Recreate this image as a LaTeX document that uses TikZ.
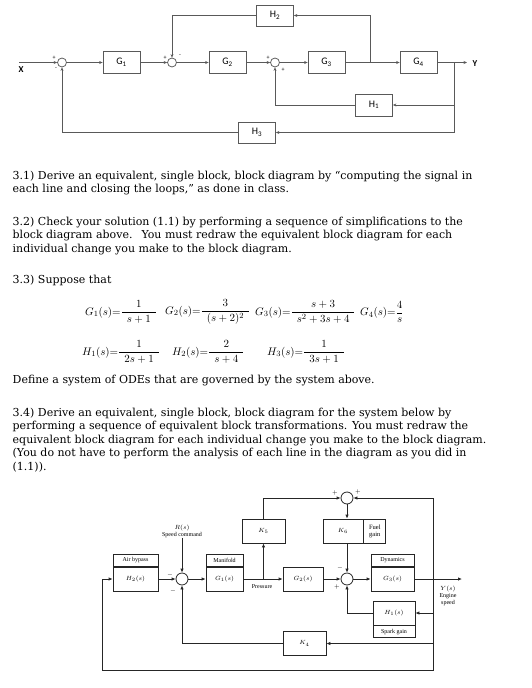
\documentclass[tikz,border=0pt]{standalone}
\usepackage{amsmath}
\usepackage{fontspec}
\setmainfont{DejaVu Serif}
\newfontfamily\lblfont{Carlito}
\newfontfamily\scanfont{Liberation Serif}
\usetikzlibrary{arrows.meta,positioning}
\newcommand{\padfrac}[2]{\dfrac{#1}{\,\;#2\;\,}}
\tikzset{
  sig/.style={draw=black!65,line width=0.75pt,-{Stealth[length=3.5pt,width=3pt]}},
  blk/.style={draw=black!65,line width=0.75pt,minimum width=37pt,minimum height=22pt,inner sep=0pt,font=\lblfont\normalsize},
  sumpt/.style={circle,draw=black!65,line width=0.75pt,minimum size=9pt,inner sep=0pt},
  sgn/.style={font=\lblfont\fontsize{6}{6}\selectfont,inner sep=0pt},
  para/.style={anchor=base west,align=left,inner sep=0pt,font=\fontsize{11}{13.5}\selectfont},
  eq/.style={anchor=west,inner sep=0pt,font=\fontsize{11}{13}\selectfont},
  bsig/.style={draw=black!85,line width=0.8pt,-{Latex[length=4pt,width=3.5pt]}},
  bblk/.style={draw=black!85,line width=0.8pt,minimum height=24pt,inner sep=0pt,font=\scanfont\fontsize{6.5}{7}\selectfont},
  bhdr/.style={draw=black!85,line width=0.8pt,minimum height=12pt,inner sep=0pt,font=\scanfont\fontsize{6}{6.5}\selectfont},
  bsum/.style={circle,draw=black!85,line width=0.8pt,minimum size=12pt,inner sep=0pt},
  btxt/.style={inner sep=0pt,font=\scanfont\fontsize{6}{7}\selectfont},
}
\begin{document}
\begin{tikzpicture}[x=1pt,y=-1pt]
\useasboundingbox (0,0) rectangle (532,688);

\coordinate (xin) at (19,62.5);
\node[sumpt] (sa) at (62,62.5) {};
\node[blk] (gone) at (121.5,62.5) {G\textsubscript{1}};
\node[sumpt] (sb) at (172,62.5) {};
\node[blk] (gtw) at (227.5,62.5) {G\textsubscript{2}};
\node[sumpt] (sc) at (275,62.5) {};
\node[blk] (gth) at (326.5,62.5) {G\textsubscript{3}};
\coordinate (bone) at (370,62.5);
\node[blk] (gfo) at (418.5,62.5) {G\textsubscript{4}};
\coordinate (btwo) at (454,62.5);
\coordinate (yout) at (467,62.5);
\node[blk,minimum height=21pt] (htw) at (275,15.5) {H\textsubscript{2}};
\node[blk] (hon) at (374,105) {H\textsubscript{1}};
\node[blk,minimum height=21pt] (hth) at (257,132.5) {H\textsubscript{3}};
\node[font=\lblfont\bfseries\small] (xlbl) at (21,70) {X};
\node[font=\lblfont\bfseries\small,anchor=west] (ylbl) at (469,64) {Y};

\draw[sig] (xin) -- (sa);
\draw[sig] (sa) -- (gone);
\draw[sig] (gone) -- (sb);
\draw[sig] (sb) -- (gtw);
\draw[sig] (gtw) -- (sc);
\draw[sig] (sc) -- (gth);
\draw[sig] (gth) -- (gfo);
\draw[sig] (bone) |- (htw);
\draw[sig] (htw) -| (sb);
\draw[sig] (gfo) -- (yout);
\draw[sig] (btwo) |- (hon);
\draw[sig] (hon) -| (sc);
\draw[sig] (btwo) |- (hth);
\draw[sig] (hth) -| (sa);

\node[sgn] (sap) at (54,58) {+};
\node[sgn] (sam) at (56,69) {-};
\node[sgn] (sbp) at (165,58) {+};
\node[sgn] (sbm) at (180,56) {-};
\node[sgn] (scp) at (268,58) {+};
\node[sgn] (scq) at (283,70) {+};

\node[para] (pone) at (12.5,192.5) {3.1) Derive an equivalent, single block, block diagram by “computing the signal in\\each line and closing the loops,” as done in class.};
\node[para] (ptwo) at (12.5,252) {3.2) Check your solution (1.1) by performing a sequence of simplifications to the\\block diagram above.\enspace\ You must redraw the equivalent block diagram for each\\individual change you make to the block diagram.};
\node[para] (pthr) at (12.5,283) {3.3) Suppose that};

\node[eq] (eqga) at (85,312) {$G_1(s){=}\padfrac{1}{s+1}$};
\node[eq] (eqgb) at (165,312) {$G_2(s){=}\padfrac{3}{(s+2)^2}$};
\node[eq] (eqgc) at (255,312) {$G_3(s){=}\padfrac{s+3}{s^2+3s+4}$};
\node[eq] (eqgd) at (360,312) {$G_4(s){=}\dfrac{4}{s}$};
\node[eq] (eqha) at (82,352) {$H_1(s){=}\padfrac{1}{2s+1}$};
\node[eq] (eqhb) at (172,352) {$H_2(s){=}\padfrac{2}{s+4}$};
\node[eq] (eqhc) at (267,352) {$H_3(s){=}\padfrac{1}{3s+1}$};

\node[para] (pode) at (12.5,383) {Define a system of ODEs that are governed by the system above.};
\node[para] (pfou) at (12.5,470) {3.4) Derive an equivalent, single block, block diagram for the system below by\\performing a sequence of equivalent block transformations. You must redraw the\\equivalent block diagram for each individual change you make to the block diagram.\\(You do not have to perform the analysis of each line in the diagram as you did in\\(1.1)).};

\node[bblk,minimum width=45pt] (hab) at (135.5,579) {$H_2(s)$};
\node[bhdr,minimum width=45pt,above=0pt of hab] (habh) {Air bypass};
\node[bsum] (sone) at (182,579) {};
\node[bblk,minimum width=37pt] (man) at (224.5,579) {$G_1(s)$};
\node[bhdr,minimum width=37pt,above=0pt of man] (manh) {Manifold};
\node[bblk,minimum width=40pt] (gtwo) at (303,579) {$G_2(s)$};
\node[bsum] (stwo) at (347,579) {};
\node[bsum] (stop) at (347,498) {};
\node[bblk,minimum width=43pt] (dyn) at (392.5,579) {$G_3(s)$};
\node[bhdr,minimum width=43pt,above=0pt of dyn] (dynh) {Dynamics};
\node[bblk,minimum width=42pt] (hone) at (394,613) {$H_1(s)$};
\node[bhdr,minimum width=42pt,below=0pt of hone] (honef) {Spark gain};
\node[bblk,minimum width=43pt] (kfive) at (263.5,531) {$K_5$};
\node[bblk,minimum width=40pt] (ksix) at (343,531) {$K_6$};
\node[bblk,minimum width=22pt,right=0pt of ksix,align=center] (fuel) {Fuel\\gain};
\node[bblk,minimum width=43pt] (kfour) at (304.5,643.5) {$K_4$};
\node[btxt,align=center] (cmd) at (182,531) {$R(s)$\\Speed command};
\node[btxt] (press) at (262,587) {Pressure};
\node[btxt,align=center] (yspd) at (448,596) {$Y(s)$\\Engine\\speed};
\coordinate (pb) at (263.5,579);
\coordinate (rm) at (433,579);
\coordinate (yend) at (462,579);
\coordinate (lb) at (102,670);

\draw[bsig] (hab) -- (sone);
\draw[bsig] (cmd) -- (sone);
\draw[bsig] (sone) -- (man);
\draw[bsig] (man) -- (gtwo);
\draw[bsig] (pb) -- (kfive);
\draw[bsig] (kfive) |- (stop);
\draw[bsig] (stop) -- (stop |- ksix.north);
\draw[bsig] (stop |- ksix.south) -- (stwo);
\draw[bsig] (gtwo) -- (stwo);
\draw[bsig] (stwo) -- (dyn);
\draw[bsig] (dyn) -- (yend);
\draw[bsig] (rm) |- (stop);
\draw[bsig] (rm) |- (hone);
\draw[bsig] (hone) -| (stwo);
\draw[bsig] (rm) |- (kfour);
\draw[bsig] (kfour) -| (sone);
\draw[bsig] (rm) |- (lb) |- (hab);

\node[btxt] (soa) at (170,575) {$-$};
\node[btxt] (sob) at (173,591) {$-$};
\node[btxt] (sta) at (335,493) {$+$};
\node[btxt] (stb) at (358,492) {$+$};
\node[btxt] (swa) at (340,568) {$-$};
\node[btxt] (swb) at (337,587) {$+$};
\end{tikzpicture}
\end{document}
